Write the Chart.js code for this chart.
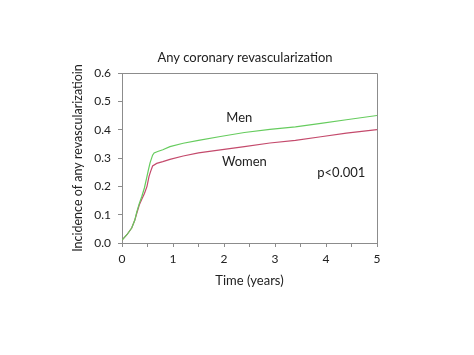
<!DOCTYPE html>
<html>
<head>
<meta charset="utf-8">
<script src="https://cdn.jsdelivr.net/npm/chart.js@4/dist/chart.umd.min.js"></script>
<style>
html,body{margin:0;padding:0;background:#fff;}
#wrap{width:474px;height:355px;position:relative;}
</style>
</head>
<body>
<div id="wrap"><canvas id="c" width="474" height="355"></canvas></div>
<script>
const menTime   = [0, 0.1, 0.19, 0.25, 0.29, 0.34, 0.39, 0.44, 0.49, 0.52, 0.55, 0.6, 0.63, 0.7, 0.8, 0.94, 1.2, 1.5, 1.93, 2.4, 2.9, 3.4, 3.9, 4.4, 5.0];
const menValues = [0.01, 0.03, 0.053, 0.08, 0.11, 0.14, 0.165, 0.195, 0.235, 0.26, 0.283, 0.31, 0.318, 0.323, 0.329, 0.34, 0.352, 0.362, 0.376, 0.39, 0.401, 0.41, 0.422, 0.435, 0.45];
const womenTime   = [0, 0.1, 0.19, 0.25, 0.29, 0.34, 0.39, 0.44, 0.49, 0.53, 0.56, 0.6, 0.68, 0.8, 0.94, 1.2, 1.5, 1.93, 2.4, 2.9, 3.4, 3.9, 4.4, 5.0];
const womenValues = [0.01, 0.03, 0.053, 0.08, 0.105, 0.135, 0.155, 0.175, 0.2, 0.235, 0.252, 0.272, 0.281, 0.287, 0.295, 0.307, 0.318, 0.329, 0.34, 0.353, 0.362, 0.375, 0.388, 0.40];
const xTickValues = [0, 1, 2, 3, 4, 5];
const yTickValues = [0.0, 0.1, 0.2, 0.3, 0.4, 0.5, 0.6];
const chartTitle = "Any coronary revascularization";
const xTitle = "Time (years)";
const yTitle = "Incidence of any revascularizatioin";
const seriesLabels = ["Men", "Women"];
const pText = "p<0.001";

const FONT = "Lato, 'Open Sans', sans-serif";

const textPlugin = {
  id: 'texts',
  afterDraw(chart) {
    const {ctx, chartArea: a, scales} = chart;
    ctx.save();
    ctx.strokeStyle = '#8c8c8c';
    ctx.lineWidth = 1;
    ctx.beginPath();
    ctx.moveTo(a.left, a.top + 0.5);
    ctx.lineTo(a.right + 0.5, a.top + 0.5);
    ctx.lineTo(a.right + 0.5, a.bottom);
    ctx.stroke();
    ctx.fillStyle = '#222';
    ctx.textAlign = 'center';
    ctx.textBaseline = 'middle';
    ctx.font = "13px " + FONT;
    ctx.fillText(chartTitle, 245, 58);
    const xs = scales.x, ys = scales.y;
    ctx.fillText(seriesLabels[0], xs.getPixelForValue(2.3), ys.getPixelForValue(0.442));
    ctx.fillText(seriesLabels[1], xs.getPixelForValue(2.4), ys.getPixelForValue(0.286));
    ctx.fillText(pText, xs.getPixelForValue(4.3), ys.getPixelForValue(0.247));
    ctx.restore();
  }
};

new Chart(document.getElementById('c'), {
  type: 'line',
  data: {
    datasets: [
      {
        label: seriesLabels[0],
        data: menTime.map((t, i) => ({x: t, y: menValues[i]})),
        borderColor: '#66cc5e',
        borderWidth: 1.2,
        pointRadius: 0,
        tension: 0,
        fill: false
      },
      {
        label: seriesLabels[1],
        data: womenTime.map((t, i) => ({x: t, y: womenValues[i]})),
        borderColor: '#c44a6c',
        borderWidth: 1.2,
        pointRadius: 0,
        tension: 0,
        fill: false
      }
    ]
  },
  options: {
    responsive: false,
    animation: false,
    devicePixelRatio: 1,
    layout: {padding: {left: 70, right: 97, top: 73, bottom: 66}},
    plugins: {legend: {display: false}, tooltip: {enabled: false}, title: {display: false}},
    scales: {
      x: {
        type: 'linear', min: 0, max: 5,
        afterBuildTicks(s) {
          const t = [];
          for (let v = 0; v <= 5.0001; v += 0.5) t.push({value: Math.round(v * 10) / 10});
          s.ticks = t;
        },
        afterFit(s) { s.height = 46; },
        ticks: {
          autoSkip: false, maxRotation: 0, padding: 5,
          color: '#222', font: {size: 12, family: FONT},
          callback: v => xTickValues.includes(v) ? String(v) : ''
        },
        grid: {display: true, drawOnChartArea: false, drawTicks: true, tickLength: 4, color: '#8c8c8c'},
        border: {display: true, color: '#8c8c8c', width: 1},
        title: {display: true, text: xTitle, color: '#222', font: {size: 13, family: FONT}, padding: 0}
      },
      y: {
        type: 'linear', min: 0, max: 0.6,
        afterBuildTicks(s) { s.ticks = yTickValues.map(v => ({value: v})); },
        afterFit(s) { s.width = 52; },
        ticks: {
          padding: 7, color: '#222', font: {size: 12, family: FONT},
          callback: v => Number(v).toFixed(1)
        },
        grid: {display: true, drawOnChartArea: false, drawTicks: true, tickLength: 4, color: '#8c8c8c'},
        border: {display: true, color: '#8c8c8c', width: 1},
        title: {display: true, text: yTitle, color: '#222', font: {size: 12.5, family: FONT}, padding: 0}
      }
    }
  },
  plugins: [textPlugin]
});
</script>
</body>
</html>
